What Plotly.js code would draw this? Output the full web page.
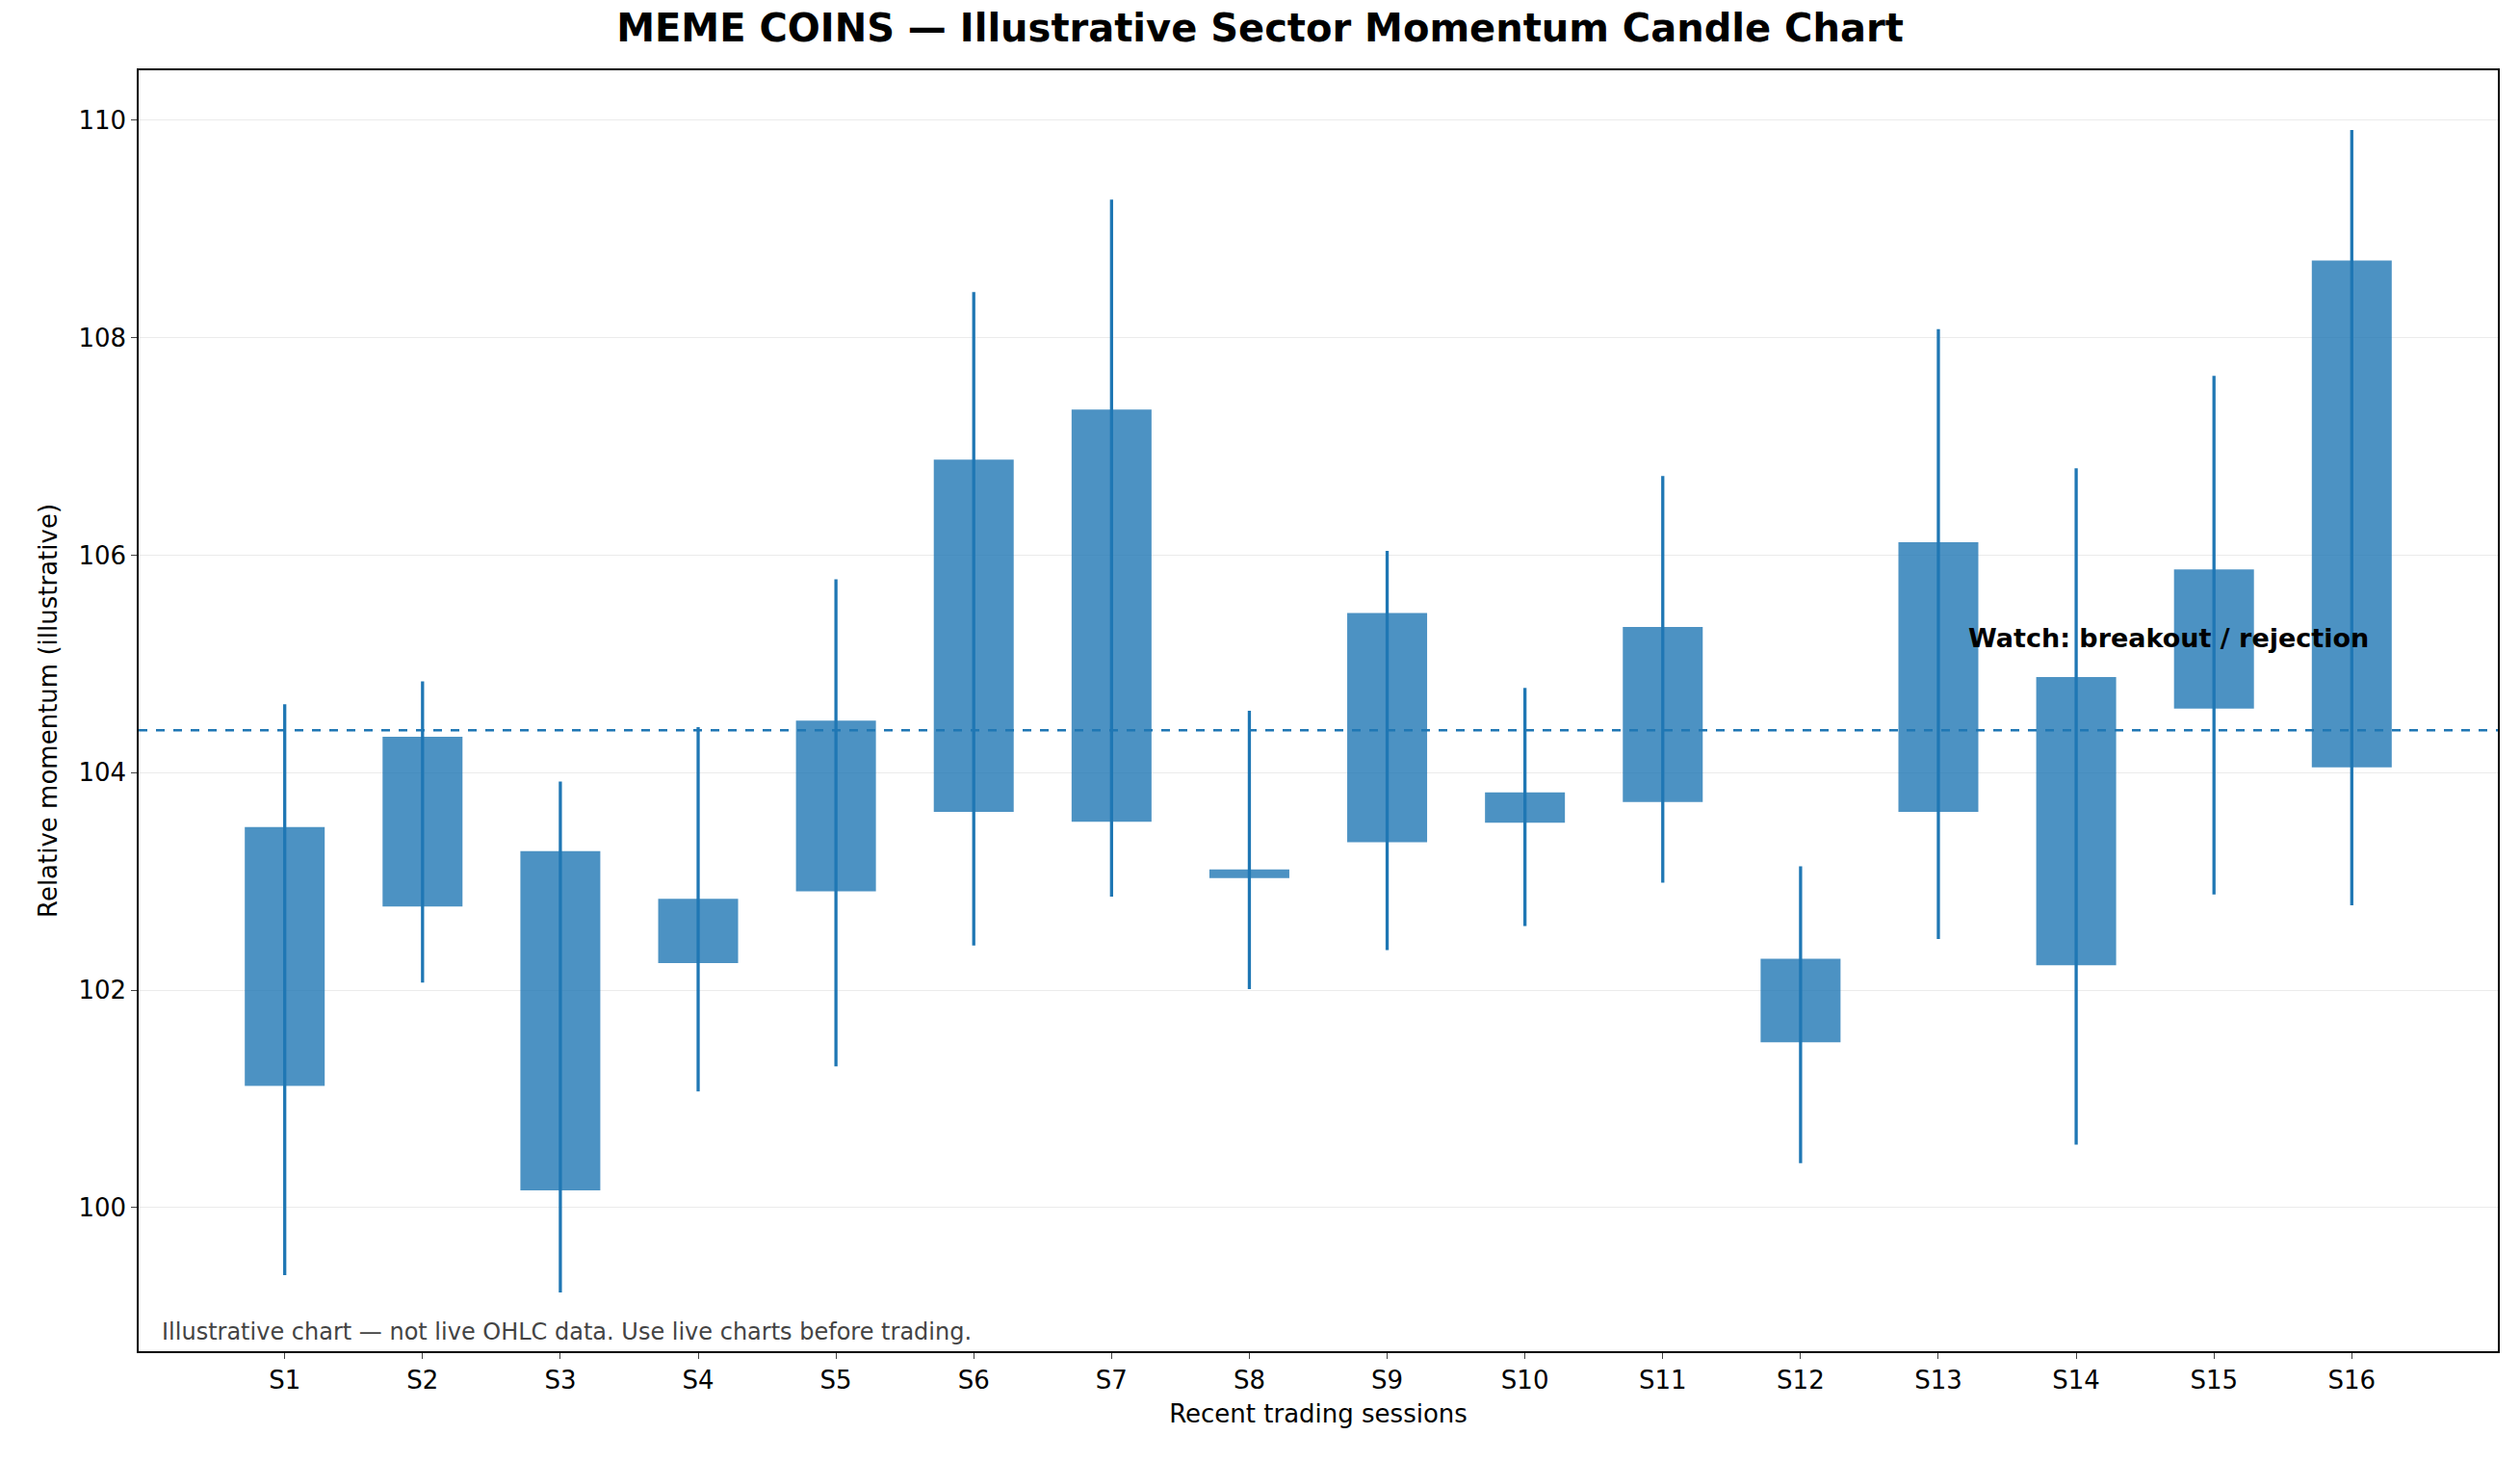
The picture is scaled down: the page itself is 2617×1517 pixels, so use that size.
<!DOCTYPE html>
<html><head><meta charset="utf-8">
<script src="https://cdn.plot.ly/plotly-3.0.1.min.js"></script>
<style>body{margin:0;background:#fff}</style></head>
<body><div id="chart" style="width:2617px;height:1517px"></div>
<script>
const sessions = ["S1","S2","S3","S4","S5","S6","S7","S8","S9","S10","S11","S12","S13","S14","S15","S16"];
const boxTop =  [103.50,104.33,103.28,102.84,104.48,106.88,107.34,103.11,105.47,103.82,105.34,102.29,106.12,104.88,105.87,108.71];
const boxBot =  [101.12,102.77,100.16,102.25,102.91,103.64,103.55,103.03,103.36,103.54,103.73,101.52,103.64,102.23,104.59,104.05];
const highs =   [104.63,104.84,103.92,104.42,105.78,108.42,109.27,104.57,106.04,104.78,106.73,103.14,108.08,106.80,107.65,109.91];
const lows =    [99.38,102.07,99.22,101.07,101.30,102.41,102.86,102.01,102.37,102.59,102.99,100.41,102.47,100.58,102.88,102.78];
const watchLevel = 104.39;
const idx = sessions.map((_, i) => i);
const wx = [], wy = [];
idx.forEach(i => { wx.push(i, i, null); wy.push(lows[i], highs[i], null); });
const data = [
  {type:'bar', x: idx, y: boxTop.map((t,i)=>t-boxBot[i]), base: boxBot, width:0.58,
   marker:{color:'rgba(31,119,180,0.8)', line:{width:0}}, hoverinfo:'skip'},
  {type:'scatter', mode:'lines', x: wx, y: wy, line:{color:'#1f77b4', width:3.3}, hoverinfo:'skip'},
  {type:'scatter', mode:'lines', x:[-1.06,16.06], y:[watchLevel,watchLevel], line:{color:'#1f77b4', width:2.5, dash:'dash'}, hoverinfo:'skip'}
];
const f = 'DejaVu Sans, sans-serif';
const layout = {
  width:2617, height:1517, showlegend:false, paper_bgcolor:'#fff', plot_bgcolor:'#fff',
  margin:{l:144, r:23, t:73, b:114},
  font:{family:f, size:26, color:'#000'},
  title:{text:'<b>MEME COINS — Illustrative Sector Momentum Candle Chart</b>', x:0.5, xanchor:'center', y:0.99, yanchor:'top', font:{family:f,size:40}},
  xaxis:{range:[-1.06,16.06], tickmode:'array', tickvals:idx, ticktext:sessions, showgrid:false, zeroline:false,
    showline:true, mirror:true, linecolor:'#000', linewidth:1.5, ticks:'outside', ticklen:6,
    title:{text:'Recent trading sessions', font:{size:26}, standoff:12}},
  yaxis:{range:[98.68,110.46], tickvals:[100,102,104,106,108,110], showgrid:true, gridcolor:'rgba(0,0,0,0.08)', zeroline:false,
    showline:true, mirror:true, linecolor:'#000', linewidth:1.5, ticks:'outside', ticklen:6,
    title:{text:'Relative momentum (illustrative)', font:{size:26}, standoff:14}},
  annotations:[
    {x:12.2, y:105.24, xref:'x', yref:'y', text:'<b>Watch: breakout / rejection</b>', showarrow:false, xanchor:'left', yanchor:'middle', font:{size:27}},
    {x:0.009, y:0.003, xref:'paper', yref:'paper', text:'Illustrative chart — not live OHLC data. Use live charts before trading.', showarrow:false, xanchor:'left', yanchor:'bottom', font:{size:24, color:'#444'}}
  ]
};
Plotly.newPlot('chart', data, layout, {displayModeBar:false});
</script></body></html>
